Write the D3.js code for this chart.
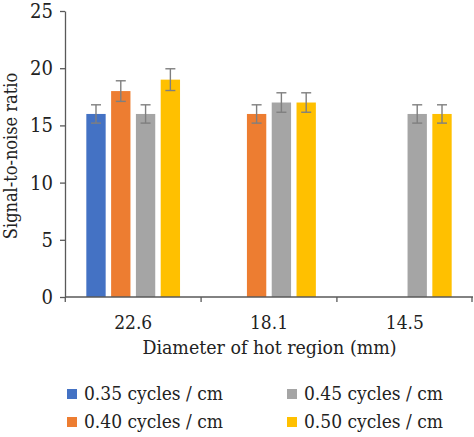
<!DOCTYPE html>
<html>
<head>
<meta charset="utf-8">
<script src="https://cdn.jsdelivr.net/npm/d3@7"></script>
<style>
  body { margin: 0; background: #fff; }
  svg { font-stretch: condensed; }
</style>
</head>
<body>
<div id="chart"></div>
<script>
const diameters = ["22.6", "18.1", "14.5"];
const seriesNames = ["0.35 cycles / cm", "0.40 cycles / cm", "0.45 cycles / cm", "0.50 cycles / cm"];
const seriesColors = ["#4472C4", "#ED7D31", "#A5A5A5", "#FFC000"];
// null = no bar for that diameter
const snr035 = [16, null, null];
const snr040 = [18, 16, null];
const snr045 = [16, 17, 16];
const snr050 = [19, 17, 16];
const err035 = [0.8, null, null];
const err040 = [0.9, 0.8, null];
const err045 = [0.8, 0.85, 0.8];
const err050 = [0.95, 0.85, 0.8];
const yTicks = [0, 5, 10, 15, 20, 25];

const width = 474, height = 437;
const margin = {top: 11, right: 1, bottom: 140, left: 65};
const font = "'DejaVu Serif Condensed', 'DejaVu Serif'";
const fs = 19;

const svg = d3.select("#chart").append("svg")
    .attr("width", width)
    .attr("height", height)
    .style("font-family", font);

const values = [snr035, snr040, snr045, snr050];
const errors = [err035, err040, err045, err050];
const rows = [];
values.forEach((vals, s) => {
  vals.forEach((v, i) => {
    if (v != null) rows.push({d: diameters[i], s: s, v: v, e: errors[s][i]});
  });
});

const x = d3.scaleBand()
    .domain(diameters)
    .range([margin.left, width - margin.right])
    .paddingInner(0.31)
    .paddingOuter(0.157);

const xs = d3.scaleBand()
    .domain(d3.range(seriesNames.length))
    .range([0, x.bandwidth()])
    .paddingInner(0.22);

const y = d3.scaleLinear()
    .domain([0, 25])
    .range([height - margin.bottom, margin.top]);

// bars
svg.append("g")
  .selectAll("rect")
  .data(rows)
  .join("rect")
    .attr("x", d => x(d.d) + xs(d.s))
    .attr("y", d => y(d.v))
    .attr("width", xs.bandwidth())
    .attr("height", d => y(0) - y(d.v))
    .attr("fill", d => seriesColors[d.s]);

// error bars
const eb = svg.append("g")
    .attr("stroke", "#7f7f7f")
    .attr("stroke-width", 1.4)
  .selectAll("g")
  .data(rows)
  .join("g")
    .attr("transform", d => `translate(${x(d.d) + xs(d.s) + xs.bandwidth() / 2},0)`);

eb.append("line")
    .attr("y1", d => y(d.v - d.e))
    .attr("y2", d => y(d.v + d.e));
eb.append("line")
    .attr("x1", -5).attr("x2", 5)
    .attr("y1", d => y(d.v + d.e))
    .attr("y2", d => y(d.v + d.e));
eb.append("line")
    .attr("x1", -5).attr("x2", 5)
    .attr("y1", d => y(d.v - d.e))
    .attr("y2", d => y(d.v - d.e));

// y axis
const yAxis = svg.append("g")
    .attr("transform", `translate(${margin.left},0)`)
    .call(d3.axisLeft(y).tickValues(yTicks).tickSize(5).tickPadding(7).tickSizeOuter(0));
yAxis.attr("font-family", font);
yAxis.select(".domain").attr("stroke", "#595959").attr("stroke-width", 1.3);
yAxis.selectAll(".tick line").attr("stroke", "#595959").attr("stroke-width", 1.3);
yAxis.selectAll("text").attr("font-size", fs + 1).attr("fill", "#222").attr("font-family", font);

// x axis: ticks on band boundaries
const xAxis = svg.append("g")
    .attr("transform", `translate(0,${y(0)})`);
xAxis.append("line")
    .attr("x1", margin.left).attr("x2", width - margin.right)
    .attr("stroke", "#595959").attr("stroke-width", 1.3);
const step = x.step();
const edges = diameters.map(d => x(d) - (step - x.bandwidth()) / 2).concat([width - margin.right - 1]);
xAxis.selectAll(".xt")
  .data(edges)
  .join("line")
    .attr("x1", d => d).attr("x2", d => d)
    .attr("y1", 0).attr("y2", 5)
    .attr("stroke", "#595959").attr("stroke-width", 1.3);
xAxis.selectAll("text")
  .data(diameters)
  .join("text")
    .attr("x", d => x(d) + x.bandwidth() / 2)
    .attr("y", 32)
    .attr("text-anchor", "middle")
    .attr("font-size", fs)
    .attr("fill", "#222")
    .text(d => d);

// axis titles
svg.append("text")
    .attr("x", (margin.left + width) / 2)
    .attr("y", 354)
    .attr("text-anchor", "middle")
    .attr("font-size", 19.4)
    .attr("fill", "#222")
    .text("Diameter of hot region (mm)");

svg.append("text")
    .attr("transform", `translate(17,156) rotate(-90)`)
    .attr("text-anchor", "middle")
    .attr("font-size", 18)
    .attr("fill", "#222")
    .text("Signal-to-noise ratio");

// legend
const legendOrder = [0, 2, 1, 3];
const legend = svg.append("g")
  .selectAll("g")
  .data(legendOrder)
  .join("g")
    .attr("transform", (s, i) => `translate(${i % 2 === 0 ? 67 : 287},${i < 2 ? 389 : 417})`);
legend.append("rect")
    .attr("width", 10).attr("height", 10)
    .attr("fill", s => seriesColors[s]);
legend.append("text")
    .attr("x", 17)
    .attr("y", 11)
    .attr("font-size", fs)
    .attr("fill", "#222")
    .text(s => seriesNames[s]);
</script>
</body>
</html>
